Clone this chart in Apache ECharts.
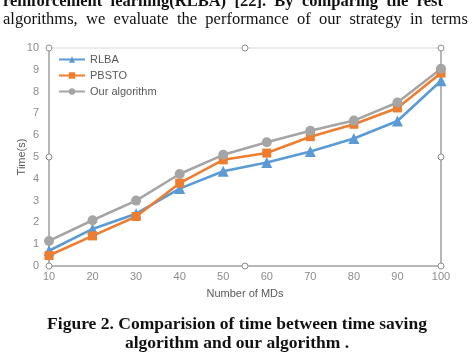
<!DOCTYPE html>
<html><head><meta charset="utf-8">
<script src="https://cdn.jsdelivr.net/npm/echarts@6/dist/echarts.min.js"></script>
<style>
html,body{margin:0;padding:0;background:#fff;overflow:hidden}
#wrap{position:relative;width:474px;height:355px;overflow:hidden}
#c{width:474px;height:355px}
.hd{position:absolute;left:3px;white-space:nowrap;font-family:"Liberation Serif",serif;font-size:16.5px;color:#111;word-spacing:4.2px;line-height:17px}
</style>
</head><body><div id="wrap"><div id="c"></div>
<div class="hd" id="h1" style="top:-8px;font-weight:bold"></div>
<div class="hd" id="h2" style="top:10px"></div></div>
<script>
const mds = [10, 20, 30, 40, 50, 60, 70, 80, 90, 100];
const rlba = [0.7, 1.7, 2.4, 3.55, 4.35, 4.75, 5.25, 5.85, 6.65, 8.5];
const pbsto = [0.48, 1.38, 2.27, 3.8, 4.87, 5.18, 5.93, 6.5, 7.25, 8.85];
const ours = [1.15, 2.1, 3.0, 4.22, 5.1, 5.68, 6.2, 6.67, 7.5, 9.05];
const seriesNames = ['RLBA', 'PBSTO', 'Our algorithm'];
const headLine1 = 'reinforcement learning(RLBA) [22]. By comparing the rest';
const headLine2 = 'algorithms, we evaluate the performance of our strategy in terms';
const caption1 = 'Figure 2. Comparision of time between time saving';
const caption2 = 'algorithm and our algorithm .';

document.getElementById('h1').textContent = headLine1;
document.getElementById('h2').textContent = headLine2;

const pair = (xs, ys) => xs.map((x, i) => [x, ys[i]]);
const chart = echarts.init(document.getElementById('c'), null, {renderer: 'canvas'});
const labelColor = '#8c8c8c';
const mk = (name, data, color, symbol, size) => ({
  name, type: 'line', data: pair(mds, data), symbol, symbolSize: size,
  lineStyle: {color, width: 2.6}, itemStyle: {color}, z: 3
});
chart.setOption({
  animation: false,
  textStyle: {fontFamily: 'Liberation Sans, Arial, sans-serif'},
  grid: {left: 49, right: 33, top: 48, bottom: 89, show: true, borderColor: '#d9d9d9', borderWidth: 1,
         containLabel: false, outerBoundsMode: 'none'},
  legend: {
    orient: 'vertical', left: 53, top: 49, itemGap: 5, itemWidth: 26, itemHeight: 8,
    textStyle: {color: '#595959', fontSize: 11}, data: seriesNames
  },
  xAxis: {
    type: 'value', min: 10, max: 100, interval: 10,
    name: 'Number of MDs', nameLocation: 'middle', nameGap: 22,
    nameTextStyle: {color: '#595959', fontSize: 11},
    axisLine: {show: true, lineStyle: {color: '#a6a6a6', width: 1.5}},
    axisTick: {show: false}, splitLine: {show: false},
    axisLabel: {color: labelColor, fontSize: 11, margin: 5}
  },
  yAxis: [{
    type: 'value', min: 0, max: 10, interval: 1,
    name: 'Time(s)', nameLocation: 'middle', nameGap: 22, nameRotate: 90, nameMoveOverlap: false,
    nameTextStyle: {color: '#595959', fontSize: 11},
    axisLine: {show: true, lineStyle: {color: '#a6a6a6', width: 1.5}},
    axisTick: {show: false}, splitLine: {show: false},
    axisLabel: {color: labelColor, fontSize: 11, margin: 10}
  }, {
    type: 'value', min: 0, max: 10, position: 'right',
    axisLine: {show: true, lineStyle: {color: '#a6a6a6', width: 1.5}},
    axisTick: {show: false}, axisLabel: {show: false}, splitLine: {show: false}
  }],
  series: [
    mk(seriesNames[0], rlba, '#5b9bd5', 'triangle', 11),
    mk(seriesNames[1], pbsto, '#ed7d31', 'rect', 9),
    mk(seriesNames[2], ours, '#a5a5a5', 'circle', 10)
  ]
});
// selection handles on plot frame
const p0 = chart.convertToPixel({xAxisIndex: 0, yAxisIndex: 0}, [10, 0]);
const p1 = chart.convertToPixel({xAxisIndex: 0, yAxisIndex: 0}, [100, 10]);
const mx = (p0[0] + p1[0]) / 2, my = (p0[1] + p1[1]) / 2;
const handles = [[p0[0], p1[1]], [mx, p1[1]], [p1[0], p1[1]], [p0[0], my], [p1[0], my], [p0[0], p0[1]], [mx, p0[1]], [p1[0], p0[1]]];
const g = handles.map(h => ({type: 'circle', shape: {cx: h[0], cy: h[1], r: 3}, style: {fill: '#fff', stroke: '#8c8c8c', lineWidth: 1}, z: 10}));
g.push({type: 'text', left: 'center', top: 315, style: {text: caption1, font: 'bold 17.5px "Liberation Serif", serif', fill: '#111'}});
g.push({type: 'text', left: 'center', top: 334, style: {text: caption2, font: 'bold 17.5px "Liberation Serif", serif', fill: '#111'}});
chart.setOption({graphic: g});
</script></body></html>
